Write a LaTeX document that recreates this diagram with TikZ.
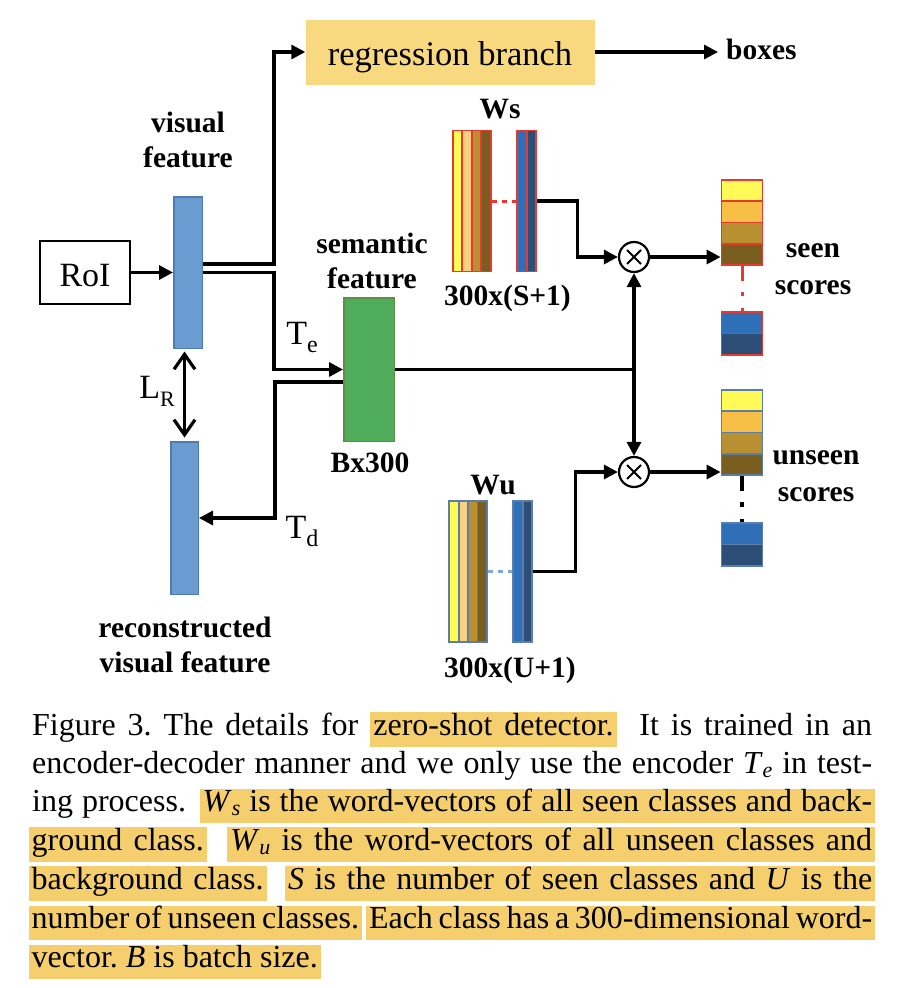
\documentclass[tikz,border=0pt]{standalone}
\usepackage{fontspec}
\setmainfont{Liberation Serif}
\usetikzlibrary{arrows.meta,calc}
\definecolor{visblue}{HTML}{6A9BD1}
\definecolor{visborder}{HTML}{4D7CB0}
\definecolor{semgreen}{HTML}{4EAC5B}
\definecolor{semborder}{HTML}{5E8E45}
\definecolor{regfill}{HTML}{F9D97F}
\definecolor{cyel}{HTML}{FFFA55}
\definecolor{clor}{HTML}{F9D07F}
\definecolor{cor}{HTML}{F7BF46}
\definecolor{ctan}{HTML}{B88F31}
\definecolor{cdark}{HTML}{7A5E1F}
\definecolor{cblue}{HTML}{2E6FB7}
\definecolor{cdblue}{HTML}{2C4E76}
\definecolor{redb}{HTML}{E63A2E}
\definecolor{blueb}{HTML}{5B7EA8}
\definecolor{ltblue}{HTML}{7FA6D8}
\definecolor{hl}{HTML}{F5CE6E}
\setlength{\fboxsep}{0pt}
% caption helpers
\newcommand\capfont{\fontsize{32}{38.6}\selectfont\spaceskip=8pt plus 1fil minus 1fil\relax\xspaceskip=10.7pt plus 3fil minus 1fil\relax}
\newcommand\hlrule[1]{{\color{hl}\vrule height 23pt depth 11.5pt width #1\relax}}
\newcommand\hlsp{{\color{hl}\leaders\vrule height 23pt depth 11.5pt\hskip 8pt plus 1fil minus 1fil\relax}}
\newcommand\ssp{\hskip 10.7pt plus 3fil minus 1fil\relax}
\newcommand\hw[1]{\colorbox{hl}{\rule[-11.5pt]{0pt}{34.5pt}#1}}
\def\HLloop#1 #2\HLend{\hw{#1}\ifx\relax#2\relax\else\hlsp\HLloop#2\HLend\fi}
\newcommand\HL[1]{\hlrule{3pt}\HLloop#1 \HLend\hlrule{3pt}}
\newcommand\capsub[2]{\textit{#1}\raisebox{-4pt}{\fontsize{22}{22}\selectfont\itshape #2}}
\begin{document}
\begin{tikzpicture}[x=1pt,y=-1pt,
  line/.style={line width=3.2pt},
  arr/.style={line, -{Triangle[length=14pt,width=14pt]}},
  lbl/.style={font=\fontsize{29.5}{35}\selectfont\bfseries, align=center, inner sep=0pt},
  tlbl/.style={font=\fontsize{34}{34}\selectfont, inner sep=0pt},
  bar/.style={draw=visborder, fill=visblue, line width=1.5pt, inner sep=0pt},
  stripe/.style={line width=1.8pt, minimum width=9.5pt, minimum height=141pt, inner sep=0pt},
  cell/.style={line width=1.8pt, minimum width=41pt, minimum height=21.25pt, inner sep=0pt},
  xcirc/.style={circle, draw, line width=2.2pt, minimum size=30pt, inner sep=0pt},
  capline/.style={anchor=base west, inner sep=0pt, font=\capfont}
]
\useasboundingbox (0,0) rectangle (900,988);

% ---------- main blocks ----------
\node[draw, line width=2.2pt, minimum width=90pt, minimum height=63pt,
      text height=27pt, text depth=0pt,
      font=\fontsize{34}{34}\selectfont] (roi) at (85,272.5) {RoI};
\node[bar, minimum width=28.5pt, minimum height=151.5pt] (vis) at (188,272.5) {};
\node[bar, minimum width=27.5pt, minimum height=152.5pt] (rec) at (184.5,518) {};
\node[draw=semborder, fill=semgreen, line width=1.5pt, inner sep=0pt,
      minimum width=50.5pt, minimum height=143.5pt] (sem) at (369,369.5) {};
\node[fill=regfill, inner sep=0pt, minimum width=289pt, minimum height=65pt,
      text height=34pt, text depth=8pt,
      font=\fontsize{34.5}{35}\selectfont] (reg) at (450,52) {regression branch};
\node[lbl, anchor=west, inner xsep=8pt] (boxes) at (718,49) {boxes};

% ---------- labels ----------
\node[lbl] (lvis) at (188,140) {visual\\feature};
\node[lbl] (lsem) at (372,260.5) {semantic\\feature};
\node[lbl] (lbx) at (370,463) {Bx300};
\node[lbl] (lrec) at (185,645) {reconstructed\\visual feature};
\node[lbl] (lws) at (500,109) {Ws};
\node[lbl] (lwu) at (493,485) {Wu};
\node[lbl] (lws2) at (507.5,298) {300x(S+1)};
\node[lbl] (lwu2) at (510,670) {300x(U+1)};
\node[lbl] (lseen) at (813,269) {seen\\[2pt]scores};
\node[lbl] (lunseen) at (816,476) {unseen\\[2pt]scores};
\node[tlbl] (te) at (302,337) {T\raisebox{-8pt}{\fontsize{24}{24}\selectfont e}};
\node[tlbl] (td) at (302,531) {T\raisebox{-8pt}{\fontsize{24}{24}\selectfont d}};
\node[tlbl] (lr) at (157,391) {L\raisebox{-8pt}{\fontsize{22}{22}\selectfont R}};

% ---------- Ws matrix ----------
\node[stripe, draw=redb, fill=cyel]  (ws1) at (457.45,201) {};
\node[stripe, draw=redb, fill=clor]  (ws2) at (466.95,201) {};
\node[stripe, draw=redb, fill=ctan]  (ws3) at (476.45,201) {};
\node[stripe, draw=redb, fill=cdark] (ws4) at (485.95,201) {};
\node[stripe, draw=redb, fill=cblue] (ws5) at (522.0,201) {};
\node[stripe, draw=redb, fill=cdblue](ws6) at (531.5,201) {};
\draw[redb, line width=3pt, dash pattern=on 5pt off 5pt] (ws4.east) -- (ws5.west);

% ---------- Wu matrix ----------
\node[stripe, draw=blueb, fill=cyel]  (wu1) at (454.0,571.7) {};
\node[stripe, draw=blueb, fill=clor]  (wu2) at (463.4,571.7) {};
\node[stripe, draw=blueb, fill=ctan]  (wu3) at (472.8,571.7) {};
\node[stripe, draw=blueb, fill=cdark] (wu4) at (482.2,571.7) {};
\node[stripe, draw=blueb, fill=cblue] (wu5) at (518.0,571.7) {};
\node[stripe, draw=blueb, fill=cdblue](wu6) at (527.5,571.7) {};
\draw[ltblue, line width=3pt, dash pattern=on 5pt off 5pt] (wu4.east) -- (wu5.west);

% ---------- score columns ----------
\node[cell, draw=redb, fill=cyel]  (s1) at (742,190.6) {};
\node[cell, draw=redb, fill=cor]   (s2) at (742,211.9) {};
\node[cell, draw=redb, fill=ctan]  (s3) at (742,233.1) {};
\node[cell, draw=redb, fill=cdark] (s4) at (742,254.4) {};
\node[cell, draw=redb, fill=cblue] (s5) at (742,323.0) {};
\node[cell, draw=redb, fill=cdblue](s6) at (742,344.2) {};
\draw[redb, line width=3pt, dash pattern=on 15pt off 11pt on 4pt off 12pt on 6pt] (s4.south) -- (s5.north);

\node[cell, draw=blueb, fill=cyel]  (u1) at (742,400.6) {};
\node[cell, draw=blueb, fill=cor]   (u2) at (742,421.9) {};
\node[cell, draw=blueb, fill=ctan]  (u3) at (742,443.1) {};
\node[cell, draw=blueb, fill=cdark] (u4) at (742,464.4) {};
\node[cell, draw=blueb, fill=cblue] (u5) at (742,533.8) {};
\node[cell, draw=blueb, fill=cdblue](u6) at (742,555.2) {};
\draw[black, line width=3.2pt, dash pattern=on 15pt off 11pt on 5pt off 12pt on 6pt] (u4.south) -- (u5.north);

% ---------- product circles ----------
\node[xcirc] (c1) at (634,257) {};
\node[xcirc] (c2) at (634,472) {};
\foreach \c in {c1,c2}{
  \draw[line width=2pt] ($(\c)+(-7,-7)$) -- ($(\c)+(7,7)$);
  \draw[line width=2pt] ($(\c)+(-7,7)$) -- ($(\c)+(7,-7)$);
}

% ---------- connectors ----------
\coordinate (j1) at (274,264);
\coordinate (j2) at (274,369.5);
\coordinate (dk) at (275,382);
\coordinate (jn) at (c1 |- sem.east);

\draw[arr] (roi) -- (vis);
\draw[arr] (vis.east |- j1) -- (j1) |- (reg.west);
\draw[arr] (vis.east) -| (j2) -- (sem.west);
\draw[arr] (sem.west |- dk) -- (dk) |- (rec.east);
\draw[line width=3.2pt, {Straight Barb[length=15pt,width=21pt]}-{Straight Barb[length=15pt,width=21pt]},
      shorten <=2.5pt, shorten >=3.5pt] (rec.north |- vis.south) -- (rec.north);
\draw[arr] (reg.east) -- (reg.east -| boxes.west);
\draw[line] (sem.east) -- (jn);
\draw[arr] (jn) -- (c1.south);
\draw[arr] (jn) -- (c2.north);
\draw[arr] (ws6.east) -| ($(ws6.east)!0.5!(c1.west)$) |- (c1.west);
\draw[arr] (wu6.east) -| ($(wu6.east)!0.5!(c2.west)$) |- (c2.west);
\draw[arr] (c1.east) -- (c1.east -| s4.west);
\draw[arr] (c2.east) -- (c2.east -| u4.west);

% ---------- caption ----------
\node[capline] (cap1) at (32,735) {\hbox to 840pt{Figure 3.\ The details for \HL{zero-shot detector.}\ssp It is trained in an}};
\node[capline] (cap2) at (32,773.3) {\hbox to 840pt{encoder-decoder manner and we only use the encoder \capsub{T}{e} in test-}};
\node[capline] (cap3) at (32,811.7) {\hbox to 843pt{ing process. \HL{\capsub{W}{s} is the word-vectors of all seen classes and back-}}};
\node[capline] (cap4) at (28.5,850) {\hbox to 846.5pt{\HL{ground class.}\ssp\HL{\capsub{W}{u} is the word-vectors of all unseen classes and}}};
\node[capline] (cap5) at (28.5,889.3) {\hbox to 846.5pt{\HL{background class.}\ssp\HL{\textit{S} is the number of seen classes and \textit{U} is the}}};
\node[capline] (cap6) at (28.5,928.8) {\hbox to 846.5pt{\HL{number of unseen classes.}\hskip 4pt\HL{Each class has a 300-dimensional word-}}};
\node[capline] (cap7) at (28.5,967.5) {\hbox to 846.5pt{\HL{vector. \textit{B} is batch size.}\hfill}};
\end{tikzpicture}
\end{document}
